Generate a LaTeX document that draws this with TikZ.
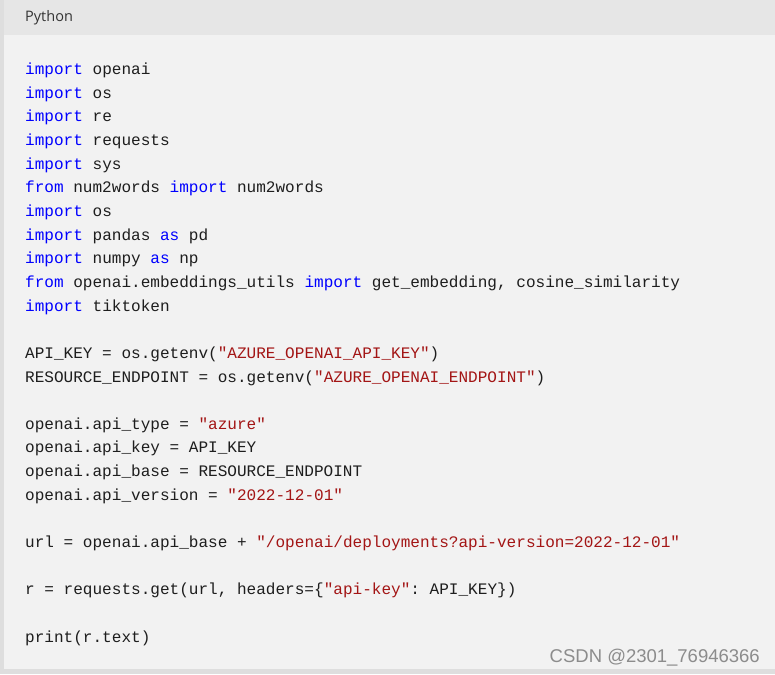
\documentclass[tikz,border=0pt]{standalone}
\usepackage{fontspec}
\newfontfamily\code{Liberation Mono}
\newfontfamily\uifont{Open Sans}
\definecolor{kw}{RGB}{0,0,255}
\definecolor{st}{RGB}{163,21,21}
\definecolor{tx}{RGB}{30,30,30}
\definecolor{hdr}{RGB}{230,230,230}
\definecolor{bodyc}{RGB}{242,242,242}
\definecolor{edge}{RGB}{222,222,222}
\newcommand{\K}[1]{\textcolor{kw}{#1}}
\newcommand{\Sg}[1]{\textcolor{st}{#1}}
\frenchspacing
\begin{document}
\begin{tikzpicture}[x=1pt,y=-1pt,
  ln/.style={anchor=base west,inner sep=0pt,font=\code\fontsize{16.05}{18}\selectfont\frenchspacing,text=tx}]
\useasboundingbox (0,0) rectangle (775,674);
\fill[edge] (0,0) rectangle (775,674);
\fill[hdr] (4,0) rectangle (775,35);
\fill[bodyc] (4,35) rectangle (775,669);
\node[anchor=base west,inner sep=0pt,font=\uifont\fontsize{14.5}{16}\selectfont,text=black!80] (hd) at (25,21.5) {Python};
\node[ln] (l1) at (25,74.5) {\K{import} openai};
\node[ln] (l2) at (25,98.2) {\K{import} os};
\node[ln] (l3) at (25,121.8) {\K{import} re};
\node[ln] (l4) at (25,145.5) {\K{import} requests};
\node[ln] (l5) at (25,169.1) {\K{import} sys};
\node[ln] (l6) at (25,192.8) {\K{from} num2words \K{import} num2words};
\node[ln] (l7) at (25,216.4) {\K{import} os};
\node[ln] (l8) at (25,240.1) {\K{import} pandas \K{as} pd};
\node[ln] (l9) at (25,263.7) {\K{import} numpy \K{as} np};
\node[ln] (l10) at (25,287.4) {\K{from} openai.embeddings\_utils \K{import} get\_embedding, cosine\_similarity};
\node[ln] (l11) at (25,311.0) {\K{import} tiktoken};
\node[ln] (l13) at (25,358.3) {API\_KEY = os.getenv(\Sg{"AZURE\_OPENAI\_API\_KEY"})};
\node[ln] (l14) at (25,382.0) {RESOURCE\_ENDPOINT = os.getenv(\Sg{"AZURE\_OPENAI\_ENDPOINT"})};
\node[ln] (l16) at (25,429.3) {openai.api\_type = \Sg{"azure"}};
\node[ln] (l17) at (25,452.9) {openai.api\_key = API\_KEY};
\node[ln] (l18) at (25,476.6) {openai.api\_base = RESOURCE\_ENDPOINT};
\node[ln] (l19) at (25,500.2) {openai.api\_version = \Sg{"2022-12-01"}};
\node[ln] (l21) at (25,547.5) {url = openai.api\_base + \Sg{"/openai/deployments?api-version=2022-12-01"}};
\node[ln] (l23) at (25,594.8) {r = requests.get(url, headers=\{\Sg{"api-key"}: API\_KEY\})};
\node[ln] (l25) at (25,642.1) {print(r.text)};
\node[anchor=base east,inner sep=0pt,font=\fontspec{Liberation Sans}\fontsize{18.5}{20}\selectfont,text=black!45] (wm) at (760,662) {CSDN @2301\_76946366};
\end{tikzpicture}
\end{document}
